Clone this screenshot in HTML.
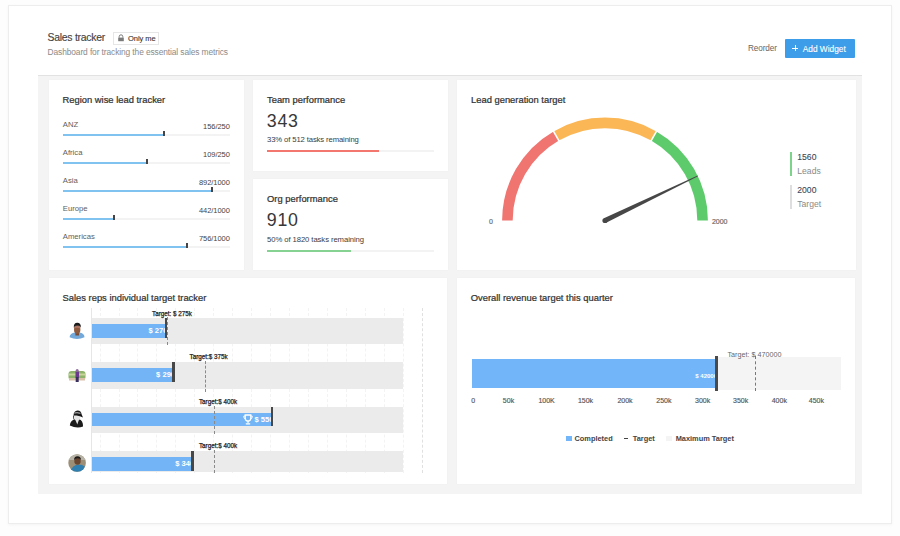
<!DOCTYPE html>
<html><head><meta charset="utf-8">
<style>
*{margin:0;padding:0;box-sizing:border-box}
html,body{width:900px;height:536px;overflow:hidden;background:#fdfdfd;font-family:"Liberation Sans",sans-serif;}
.a{position:absolute}
.t{position:absolute;white-space:nowrap;line-height:1}
</style></head><body>
<div class="a" style="left:8.00px;top:4.50px;width:884.00px;height:519.50px;background:#fff;border:1px solid #ededed;box-shadow:0 1px 3px rgba(0,0,0,0.04);"></div>
<div class="t" style="left:47.50px;top:33.07px;font-size:10.4px;color:#444;letter-spacing:-0.25px;-webkit-text-stroke:0.15px #444;">Sales tracker</div>
<div class="a" style="left:113.20px;top:31.60px;width:46.30px;height:13.00px;background:#fff;border:1px solid #e6e6e6;"></div>
<svg class="a" style="left:117px;top:33.5px" width="8" height="8" viewBox="0 0 8 8"><path d="M2.2 3.6V2.6a1.8 1.8 0 0 1 3.6 0V3.6" fill="none" stroke="#7a7a7a" stroke-width="1"/><rect x="1.2" y="3.6" width="5.6" height="3.6" fill="#7a7a7a"/></svg>
<div class="t" style="left:128.00px;top:34.57px;font-size:7.5px;color:#333;-webkit-text-stroke:0.1px #333;letter-spacing:-0.05px;">Only me</div>
<div class="t" style="left:47.60px;top:47.63px;font-size:8.4px;color:#8a8a8a;letter-spacing:-0.1px;">Dashboard for tracking the essential sales metrics</div>
<div class="t" style="left:748.00px;top:44.59px;font-size:8.2px;color:#666;letter-spacing:-0.1px;">Reorder</div>
<div class="a" style="left:785.20px;top:39.10px;width:69.90px;height:18.90px;background:#3d9de8;border-radius:1px;"></div>
<div class="a" style="left:792.00px;top:48.00px;width:6.00px;height:0.90px;background:#fff;"></div>
<div class="a" style="left:794.55px;top:45.40px;width:0.90px;height:6.00px;background:#fff;"></div>
<div class="t" style="left:802.80px;top:44.81px;font-size:8.3px;color:#fff;-webkit-text-stroke:0.1px #fff;">Add Widget</div>
<div class="a" style="left:38.00px;top:75.00px;width:824.00px;height:418.80px;background:#f4f4f4;border-top:1px solid #e2e2e2;"></div>
<div class="a" style="left:49.00px;top:80.00px;width:194.50px;height:190.20px;background:#fff;box-shadow:0 0 1px rgba(0,0,0,0.06);"></div>
<div class="a" style="left:253.20px;top:79.70px;width:194.60px;height:91.30px;background:#fff;box-shadow:0 0 1px rgba(0,0,0,0.06);"></div>
<div class="a" style="left:253.20px;top:178.90px;width:194.60px;height:91.40px;background:#fff;box-shadow:0 0 1px rgba(0,0,0,0.06);"></div>
<div class="a" style="left:456.80px;top:79.60px;width:399.50px;height:190.60px;background:#fff;box-shadow:0 0 1px rgba(0,0,0,0.06);"></div>
<div class="a" style="left:49.00px;top:278.00px;width:397.50px;height:205.50px;background:#fff;box-shadow:0 0 1px rgba(0,0,0,0.06);"></div>
<div class="a" style="left:456.80px;top:278.00px;width:398.70px;height:205.50px;background:#fff;box-shadow:0 0 1px rgba(0,0,0,0.06);"></div>
<div class="t" style="left:62.50px;top:95.00px;font-size:9.4px;color:#333;-webkit-text-stroke:0.24px #333;">Region wise lead tracker</div>
<div class="t" style="left:62.80px;top:120.51px;font-size:7.7px;color:#5e5e5e;">ANZ</div>
<div class="t" style="right:670.20px;top:123.28px;font-size:7.5px;color:#444;letter-spacing:-0.05px;">156/250</div>
<div class="a" style="left:63.00px;top:133.50px;width:166.80px;height:2.50px;background:#f3f3f3;"></div>
<div class="a" style="left:63.00px;top:134.00px;width:101.30px;height:2.00px;background:#80c2f0;"></div>
<div class="a" style="left:163.30px;top:131.00px;width:2.00px;height:5.00px;background:#454545;"></div>
<div class="t" style="left:62.80px;top:148.51px;font-size:7.7px;color:#5e5e5e;">Africa</div>
<div class="t" style="right:670.20px;top:151.28px;font-size:7.5px;color:#444;letter-spacing:-0.05px;">109/250</div>
<div class="a" style="left:63.00px;top:161.50px;width:166.80px;height:2.50px;background:#f3f3f3;"></div>
<div class="a" style="left:63.00px;top:162.00px;width:84.30px;height:2.00px;background:#80c2f0;"></div>
<div class="a" style="left:146.30px;top:159.00px;width:2.00px;height:5.00px;background:#454545;"></div>
<div class="t" style="left:62.80px;top:176.51px;font-size:7.7px;color:#5e5e5e;">Asia</div>
<div class="t" style="right:670.20px;top:179.28px;font-size:7.5px;color:#444;letter-spacing:-0.05px;">892/1000</div>
<div class="a" style="left:63.00px;top:189.50px;width:166.80px;height:2.50px;background:#f3f3f3;"></div>
<div class="a" style="left:63.00px;top:190.00px;width:148.80px;height:2.00px;background:#80c2f0;"></div>
<div class="a" style="left:210.80px;top:187.00px;width:2.00px;height:5.00px;background:#454545;"></div>
<div class="t" style="left:62.80px;top:204.51px;font-size:7.7px;color:#5e5e5e;">Europe</div>
<div class="t" style="right:670.20px;top:207.28px;font-size:7.5px;color:#444;letter-spacing:-0.05px;">442/1000</div>
<div class="a" style="left:63.00px;top:217.50px;width:166.80px;height:2.50px;background:#f3f3f3;"></div>
<div class="a" style="left:63.00px;top:218.00px;width:51.00px;height:2.00px;background:#80c2f0;"></div>
<div class="a" style="left:113.00px;top:215.00px;width:2.00px;height:5.00px;background:#454545;"></div>
<div class="t" style="left:62.80px;top:232.51px;font-size:7.7px;color:#5e5e5e;">Americas</div>
<div class="t" style="right:670.20px;top:235.28px;font-size:7.5px;color:#444;letter-spacing:-0.05px;">756/1000</div>
<div class="a" style="left:63.00px;top:245.50px;width:166.80px;height:2.50px;background:#f3f3f3;"></div>
<div class="a" style="left:63.00px;top:246.00px;width:123.70px;height:2.00px;background:#80c2f0;"></div>
<div class="a" style="left:185.70px;top:243.00px;width:2.00px;height:5.00px;background:#454545;"></div>
<div class="t" style="left:267.00px;top:94.70px;font-size:9.4px;color:#333;-webkit-text-stroke:0.24px #333;">Team performance</div>
<div class="t" style="left:266.80px;top:112.73px;font-size:17.8px;color:#383838;letter-spacing:0.7px;">343</div>
<div class="t" style="left:267.00px;top:136.31px;font-size:7.7px;color:#3c3c3c;letter-spacing:-0.12px;">33% of 512 tasks remaining</div>
<div class="a" style="left:267.00px;top:150.00px;width:167.00px;height:2.00px;background:#f3f3f3;"></div>
<div class="a" style="left:267.00px;top:150.00px;width:111.50px;height:2.00px;background:#f3766f;"></div>
<div class="t" style="left:267.00px;top:194.40px;font-size:9.4px;color:#333;-webkit-text-stroke:0.24px #333;">Org performance</div>
<div class="t" style="left:266.80px;top:212.43px;font-size:17.8px;color:#383838;letter-spacing:0.7px;">910</div>
<div class="t" style="left:267.00px;top:235.61px;font-size:7.7px;color:#3c3c3c;letter-spacing:-0.08px;">50% of 1820 tasks remaining</div>
<div class="a" style="left:267.00px;top:250.00px;width:167.00px;height:2.00px;background:#f3f3f3;"></div>
<div class="a" style="left:267.00px;top:250.00px;width:84.20px;height:2.00px;background:#86d293;"></div>
<div class="t" style="left:471.00px;top:95.00px;font-size:9.4px;color:#333;-webkit-text-stroke:0.24px #333;">Lead generation target</div>
<svg class="a" style="left:457px;top:80px" width="399" height="190" viewBox="457 80 399 190"><path d="M507.40 220.50A97.6 97.6 0 0 1 556.20 135.98" fill="none" stroke="#f07571" stroke-width="10.6"/><path d="M556.20 135.98A97.6 97.6 0 0 1 653.80 135.98" fill="none" stroke="#fbb756" stroke-width="10.6"/><path d="M653.80 135.98A97.6 97.6 0 0 1 702.60 220.50" fill="none" stroke="#5dcb6b" stroke-width="10.6"/><line x1="559.70" y1="142.04" x2="552.70" y2="129.91" stroke="#fff" stroke-width="1.6"/><line x1="650.30" y1="142.04" x2="657.30" y2="129.91" stroke="#fff" stroke-width="1.6"/><path d="M606.13 222.84 L698.03 176.29 L697.68 175.56 L603.87 218.16Z" fill="#474747"/><circle cx="605" cy="220.5" r="2.6" fill="#474747"/></svg>
<div class="t" style="left:488.90px;top:217.69px;font-size:7px;color:#666;-webkit-text-stroke:0.15px #666;">0</div>
<div class="t" style="left:711.90px;top:217.69px;font-size:7px;color:#666;-webkit-text-stroke:0.15px #666;">2000</div>
<div class="a" style="left:790.00px;top:152.00px;width:1.80px;height:24.00px;background:#7dd38a;"></div>
<div class="t" style="left:797.30px;top:153.06px;font-size:8.6px;color:#3b4858;-webkit-text-stroke:0.1px #3b4858;">1560</div>
<div class="t" style="left:797.30px;top:166.86px;font-size:8.6px;color:#8a8a8a;">Leads</div>
<div class="a" style="left:790.00px;top:184.80px;width:1.50px;height:24.60px;background:#dedede;"></div>
<div class="t" style="left:797.30px;top:186.16px;font-size:8.6px;color:#3b4858;-webkit-text-stroke:0.1px #3b4858;">2000</div>
<div class="t" style="left:797.30px;top:200.06px;font-size:8.6px;color:#8a8a8a;">Target</div>
<div class="t" style="left:62.50px;top:293.40px;font-size:9.4px;color:#333;-webkit-text-stroke:0.24px #333;">Sales reps individual target tracker</div>
<div class="a" style="left:91.10px;top:308.00px;width:1.00px;height:165.00px;background:#e4e6ee;"></div>
<div class="a" style="left:99.55px;top:308px;width:0;height:165px;border-left:1px dashed #f3f3f3"></div>
<div class="a" style="left:118.50px;top:308px;width:0;height:165px;border-left:1px dashed #f3f3f3"></div>
<div class="a" style="left:137.45px;top:308px;width:0;height:165px;border-left:1px dashed #f3f3f3"></div>
<div class="a" style="left:156.40px;top:308px;width:0;height:165px;border-left:1px dashed #f3f3f3"></div>
<div class="a" style="left:175.35px;top:308px;width:0;height:165px;border-left:1px dashed #f3f3f3"></div>
<div class="a" style="left:194.30px;top:308px;width:0;height:165px;border-left:1px dashed #f3f3f3"></div>
<div class="a" style="left:213.25px;top:308px;width:0;height:165px;border-left:1px dashed #f3f3f3"></div>
<div class="a" style="left:232.20px;top:308px;width:0;height:165px;border-left:1px dashed #f3f3f3"></div>
<div class="a" style="left:251.15px;top:308px;width:0;height:165px;border-left:1px dashed #f3f3f3"></div>
<div class="a" style="left:270.10px;top:308px;width:0;height:165px;border-left:1px dashed #f3f3f3"></div>
<div class="a" style="left:289.05px;top:308px;width:0;height:165px;border-left:1px dashed #f3f3f3"></div>
<div class="a" style="left:308.00px;top:308px;width:0;height:165px;border-left:1px dashed #f3f3f3"></div>
<div class="a" style="left:326.95px;top:308px;width:0;height:165px;border-left:1px dashed #f3f3f3"></div>
<div class="a" style="left:345.90px;top:308px;width:0;height:165px;border-left:1px dashed #f3f3f3"></div>
<div class="a" style="left:364.85px;top:308px;width:0;height:165px;border-left:1px dashed #f3f3f3"></div>
<div class="a" style="left:383.80px;top:308px;width:0;height:165px;border-left:1px dashed #f3f3f3"></div>
<div class="a" style="left:402.75px;top:308px;width:0;height:165px;border-left:1px dashed #f3f3f3"></div>
<div class="a" style="left:421.70px;top:308px;width:0;height:165px;border-left:1px dashed #e0e0e0"></div>
<div class="a" style="left:91.60px;top:317.70px;width:311.70px;height:26.00px;background:#ebebeb;"></div>
<div class="a" style="left:91.6px;top:324px;width:73.40px;height:14px;background:#72b4f5"><div class="t" style="right:-2.5px;top:3.20px;font-size:7.6px;color:#fff;font-weight:bold">$ 270</div></div>
<div class="a" style="left:166.50px;top:316.70px;width:0;height:28.00px;border-left:1px dashed #8a8a8a"></div>
<div class="a" style="left:164.50px;top:317.70px;width:2.60px;height:20.30px;background:#474747;"></div>
<div class="t" style="left:152.00px;top:310.77px;font-size:6.3px;color:#1e1e1e;-webkit-text-stroke:0.25px #1e1e1e;">Target: $ 275k</div>
<div class="a" style="left:91.60px;top:361.70px;width:311.70px;height:27.00px;background:#ebebeb;"></div>
<div class="a" style="left:91.6px;top:368.4px;width:81.00px;height:13.8px;background:#72b4f5"><div class="t" style="right:-2.5px;top:3.10px;font-size:7.6px;color:#fff;font-weight:bold">$ 290</div></div>
<div class="a" style="left:204.50px;top:360.70px;width:0;height:31.00px;border-left:1px dashed #8a8a8a"></div>
<div class="a" style="left:172.10px;top:361.70px;width:2.60px;height:20.50px;background:#474747;"></div>
<div class="t" style="left:189.60px;top:354.07px;font-size:6.3px;color:#1e1e1e;-webkit-text-stroke:0.25px #1e1e1e;">Target:$ 375k</div>
<div class="a" style="left:91.60px;top:406.60px;width:311.70px;height:26.00px;background:#ebebeb;"></div>
<div class="a" style="left:91.6px;top:412.7px;width:179.40px;height:13.5px;background:#72b4f5"><div class="t" style="right:-2.5px;top:2.95px;font-size:7.6px;color:#fff;font-weight:bold">$ 550</div></div>
<div class="a" style="left:213.70px;top:405.60px;width:0;height:28.00px;border-left:1px dashed #8a8a8a"></div>
<div class="a" style="left:270.50px;top:406.60px;width:2.60px;height:19.60px;background:#474747;"></div>
<div class="t" style="left:198.90px;top:398.67px;font-size:6.3px;color:#1e1e1e;-webkit-text-stroke:0.25px #1e1e1e;">Target:$ 400k</div>
<div class="a" style="left:91.60px;top:450.70px;width:311.70px;height:21.60px;background:#ebebeb;"></div>
<div class="a" style="left:91.6px;top:456.7px;width:100.10px;height:14px;background:#72b4f5"><div class="t" style="right:-2.5px;top:3.20px;font-size:7.6px;color:#fff;font-weight:bold">$ 340</div></div>
<div class="a" style="left:213.70px;top:449.70px;width:0;height:23.60px;border-left:1px dashed #8a8a8a"></div>
<div class="a" style="left:191.20px;top:450.70px;width:2.60px;height:20.00px;background:#474747;"></div>
<div class="t" style="left:198.90px;top:443.07px;font-size:6.3px;color:#1e1e1e;-webkit-text-stroke:0.25px #1e1e1e;">Target:$ 400k</div>
<svg class="a" style="left:67px;top:321px" width="20" height="20" viewBox="0 0 20 20">
<path d="M2.6 16.2Q3 12.3 8 11.6L12.4 11.6Q17.2 12.3 17.5 16.2Q10 19.8 2.6 16.2Z" fill="#72a8da"/>
<rect x="8.4" y="10.5" width="3.6" height="4" fill="#7b4b33"/>
<ellipse cx="10.2" cy="8.4" rx="3.2" ry="4.3" fill="#8f5b3f"/>
<path d="M7.2 6.2Q8.5 5 10.2 5.1Q12 5 13.3 6.2L13.2 7.2Q10.2 6.4 7.1 7.2Z" fill="#b07565"/>
<path d="M6.8 6.8Q6.5 1.9 10.3 1.8Q14.1 1.9 13.9 6.6Q13.2 4.4 10.3 4.5Q7.6 4.4 6.8 6.8Z" fill="#1a1a1a"/>
</svg>
<svg class="a" style="left:67px;top:365px" width="20" height="20" viewBox="0 0 20 20">
<rect x="1.5" y="6" width="17" height="9" rx="3" fill="#8fb36a"/>
<rect x="2" y="8.5" width="16" height="2" fill="#c9d59a"/>
<rect x="2" y="13" width="16" height="2.5" fill="#d9c0a8"/>
<rect x="8.5" y="6.5" width="3.5" height="6" fill="#6b3a8f"/>
<rect x="8.7" y="12" width="3" height="5" fill="#3a2f5e"/>
<circle cx="10.2" cy="5.5" r="1.5" fill="#8e6a9a"/>
</svg>
<svg class="a" style="left:67px;top:408px" width="20" height="20" viewBox="0 0 20 20">
<path d="M2.8 17.5Q3.5 12.2 8 11.3L12 11.3Q16.2 12.4 16 18.5Q10 21 2.8 17.5Z" fill="#1b1b1b"/>
<path d="M8.2 11.6L10.3 16.5L12 11.6Z" fill="#e6e6e6"/>
<ellipse cx="10.2" cy="9.2" rx="2.9" ry="3.3" fill="#e4e4e4"/>
<path d="M7.3 7.2Q6.2 9.5 7.8 11.8L6.5 11.2Q5.2 9 6.8 7Z" fill="#333"/>
<path d="M6.6 7.6Q6.4 2.6 10.6 2.4Q14.2 2.4 14.6 6.2L16 9.6Q13 7.6 9.5 7.4Q7.5 7.3 6.6 7.6Z" fill="#161616"/>
<path d="M7.4 4.6Q10.5 3.6 13.4 4.8L13.5 5.8Q10.5 4.8 7.2 5.6Z" fill="#c8c8c8"/>
</svg>
<svg class="a" style="left:67px;top:452px" width="20" height="20" viewBox="0 0 20 20">
<defs><clipPath id="c4"><circle cx="10.1" cy="11" r="8.8"/></clipPath></defs>
<g clip-path="url(#c4)"><rect width="20" height="20" fill="#9c8f78"/>
<rect x="0" y="0" width="20" height="8" fill="#b7b3a6"/>
<ellipse cx="12" cy="19" rx="8" ry="6.5" fill="#2f7fb0"/>
<ellipse cx="10.5" cy="9" rx="3.2" ry="3.8" fill="#6a4630"/>
<path d="M7 8Q7 4.2 10.5 4.2T14 8Q13 6 10.5 6.2T7 8Z" fill="#1e1a18"/>
</g></svg>
<svg class="a" style="left:242.5px;top:413.8px" width="10" height="11" viewBox="0 0 10 11">
<path d="M2.2 1H7.8V4Q7.8 7 5 7Q2.2 7 2.2 4Z" fill="none" stroke="#fff" stroke-width="1.3"/>
<path d="M2.2 2H0.8V3Q0.8 4.6 2.5 5M7.8 2H9.2V3Q9.2 4.6 7.5 5" fill="none" stroke="#fff" stroke-width="0.9"/>
<path d="M4.4 7H5.6V9H4.4Z M2.8 9.2H7.2V10.4H2.8Z" fill="#fff"/>
</svg>

<div class="t" style="left:470.70px;top:293.30px;font-size:9.4px;color:#333;-webkit-text-stroke:0.24px #333;">Overall revenue target this quarter</div>
<div class="a" style="left:715.00px;top:357.40px;width:125.50px;height:32.60px;background:#f4f4f4;"></div>
<div class="a" style="left:472.20px;top:359.30px;width:243.30px;height:28.70px;background:#72b6f9;"></div>
<div class="t" style="right:183.00px;top:372.52px;font-size:6px;color:#fff;font-weight:bold;">$ 42000</div>
<div class="a" style="left:715.30px;top:356.40px;width:3.00px;height:34.20px;background:#4a4a4a;"></div>
<div class="a" style="left:755px;top:356.4px;width:0;height:34.2px;border-left:1px dashed #777"></div>
<div class="t" style="left:727.50px;top:350.92px;font-size:7.2px;color:#666;">Target: $ 470000</div>
<div class="t" style="left:413.30px;width:120px;text-align:center;top:397.09px;font-size:7px;color:#555;-webkit-text-stroke:0.15px #555;">0</div>
<div class="t" style="left:448.50px;width:120px;text-align:center;top:397.09px;font-size:7px;color:#555;-webkit-text-stroke:0.15px #555;">50k</div>
<div class="t" style="left:486.60px;width:120px;text-align:center;top:397.09px;font-size:7px;color:#555;-webkit-text-stroke:0.15px #555;">100K</div>
<div class="t" style="left:525.50px;width:120px;text-align:center;top:397.09px;font-size:7px;color:#555;-webkit-text-stroke:0.15px #555;">150k</div>
<div class="t" style="left:565.00px;width:120px;text-align:center;top:397.09px;font-size:7px;color:#555;-webkit-text-stroke:0.15px #555;">200k</div>
<div class="t" style="left:603.90px;width:120px;text-align:center;top:397.09px;font-size:7px;color:#555;-webkit-text-stroke:0.15px #555;">250k</div>
<div class="t" style="left:642.60px;width:120px;text-align:center;top:397.09px;font-size:7px;color:#555;-webkit-text-stroke:0.15px #555;">300k</div>
<div class="t" style="left:680.60px;width:120px;text-align:center;top:397.09px;font-size:7px;color:#555;-webkit-text-stroke:0.15px #555;">350k</div>
<div class="t" style="left:719.30px;width:120px;text-align:center;top:397.09px;font-size:7px;color:#555;-webkit-text-stroke:0.15px #555;">400k</div>
<div class="t" style="left:756.40px;width:120px;text-align:center;top:397.09px;font-size:7px;color:#555;-webkit-text-stroke:0.15px #555;">450k</div>
<div class="a" style="left:566.00px;top:435.50px;width:5.50px;height:5.50px;background:#72b6f9;"></div>
<div class="t" style="left:574.50px;top:435.06px;font-size:7.4px;color:#444;font-weight:bold;">Completed</div>
<div class="a" style="left:624.30px;top:437.80px;width:4.00px;height:1.20px;background:#444;"></div>
<div class="t" style="left:632.80px;top:435.06px;font-size:7.4px;color:#444;font-weight:bold;">Target</div>
<div class="a" style="left:666.00px;top:435.50px;width:6.00px;height:5.50px;background:#f4f4f4;"></div>
<div class="t" style="left:675.70px;top:435.06px;font-size:7.4px;color:#444;font-weight:bold;">Maximum Target</div>
</body></html>
